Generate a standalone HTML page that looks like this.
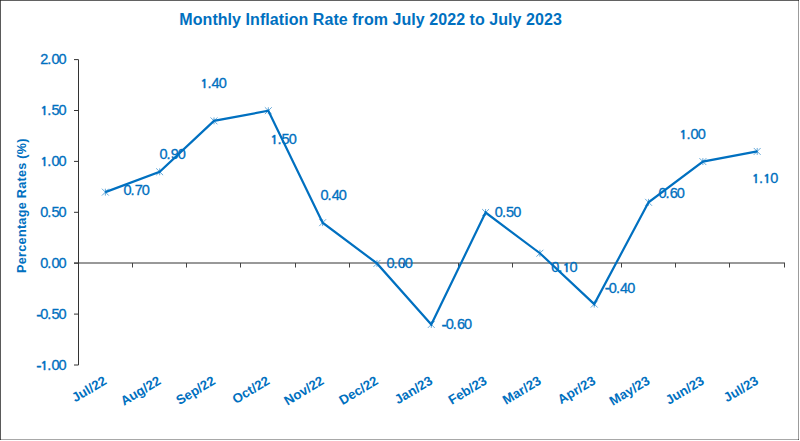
<!DOCTYPE html>
<html><head><meta charset="utf-8"><style>
html,body{margin:0;padding:0;background:#fff;}
body{width:800px;height:441px;overflow:hidden;}
svg{display:block;}
text{font-family:"Liberation Sans",Arial,sans-serif;fill:#0070C0;}
.one{font-family:"NanumGothic","Liberation Sans",sans-serif;font-weight:bold;font-size:12.9px;}
.hy{stroke-width:0.7px;}
</style></head><body>
<svg width="800" height="441" viewBox="0 0 800 441">
<rect x="0" y="0" width="800" height="441" fill="#fff"/>
<rect x="0" y="0" width="799" height="1" fill="#626262"/>
<rect x="0" y="0" width="1" height="440" fill="#5a5a5a"/>
<rect x="798" y="1" width="1" height="439" fill="#9c9c9c"/>
<rect x="1" y="439" width="798" height="1" fill="#a8a8a8"/>
<rect x="0" y="0" width="1" height="1" fill="#333"/><rect x="798" y="0" width="1" height="1" fill="#3a3a3a"/><rect x="0" y="439" width="1" height="1" fill="#3a3a3a"/><rect x="798" y="439" width="1" height="1" fill="#555"/>
<text x="370.6" y="24.8" text-anchor="middle" font-size="16" font-weight="bold" textLength="382.5" lengthAdjust="spacing">Monthly Inflation Rate from July 2022 to July 2023</text>
<text transform="translate(26.1,205.7) rotate(-90)" font-size="12.6" font-weight="bold" text-anchor="middle" textLength="134.46" lengthAdjust="spacing">Percentage Rates (%)</text>
<path d="M78.5 59.6 V365" stroke="#333" stroke-width="1" fill="none"/>
<path d="M74 59.60 H78.5 M74 110.50 H78.5 M74 161.40 H78.5 M74 212.30 H78.5 M74 263.20 H78.5 M74 314.10 H78.5 M74 365.00 H78.5 " stroke="#333" stroke-width="1" fill="none"/>
<path d="M74 263.0 H785" stroke="#333" stroke-width="1" fill="none"/>
<path d="M132.50 263 V267.5 M186.50 263 V267.5 M240.50 263 V267.5 M295.50 263 V267.5 M349.50 263 V267.5 M403.50 263 V267.5 M458.50 263 V267.5 M512.50 263 V267.5 M566.50 263 V267.5 M621.50 263 V267.5 M675.50 263 V267.5 M729.50 263 V267.5 M784.50 263 V267.5 " stroke="#444" stroke-width="1" fill="none"/>
<text x="40.30 47.35 51.55 58.60" y="64.40" font-size="14.5" stroke="#0070C0" stroke-width="0.3">2.00</text>
<text font-size="14.5" stroke="#0070C0" stroke-width="0.3"><tspan x="40.30" y="115.30" class="one">1</tspan><tspan x="47.35" y="115.30">.</tspan><tspan x="51.55" y="115.30">5</tspan><tspan x="58.60" y="115.30">0</tspan></text>
<text font-size="14.5" stroke="#0070C0" stroke-width="0.3"><tspan x="40.30" y="166.20" class="one">1</tspan><tspan x="47.35" y="166.20">.</tspan><tspan x="51.55" y="166.20">0</tspan><tspan x="58.60" y="166.20">0</tspan></text>
<text x="40.30 47.35 51.55 58.60" y="217.10" font-size="14.5" stroke="#0070C0" stroke-width="0.3">0.50</text>
<text x="40.30 47.35 51.55 58.60" y="268.00" font-size="14.5" stroke="#0070C0" stroke-width="0.3">0.00</text>
<text font-size="14.5" stroke="#0070C0" stroke-width="0.3"><tspan x="36.40" y="319.60" class="hy">-</tspan><tspan x="40.30" y="318.90">0</tspan><tspan x="47.35" y="318.90">.</tspan><tspan x="51.55" y="318.90">5</tspan><tspan x="58.60" y="318.90">0</tspan></text>
<text font-size="14.5" stroke="#0070C0" stroke-width="0.3"><tspan x="36.40" y="370.50" class="hy">-</tspan><tspan x="40.30" y="369.80" class="one">1</tspan><tspan x="47.35" y="369.80">.</tspan><tspan x="51.55" y="369.80">0</tspan><tspan x="58.60" y="369.80">0</tspan></text>
<path d="M101.91 188.69 L108.81 195.59 M101.91 195.59 L108.81 188.69 M105.36 188.69 V195.59 M156.23 168.33 L163.13 175.23 M156.23 175.23 L163.13 168.33 M159.68 168.33 V175.23 M210.55 117.43 L217.45 124.33 M210.55 124.33 L217.45 117.43 M214.00 117.43 V124.33 M264.87 107.25 L271.77 114.15 M264.87 114.15 L271.77 107.25 M268.32 107.25 V114.15 M319.19 219.23 L326.09 226.13 M319.19 226.13 L326.09 219.23 M322.64 219.23 V226.13 M373.51 259.95 L380.41 266.85 M373.51 266.85 L380.41 259.95 M376.96 259.95 V266.85 M427.83 321.03 L434.73 327.93 M427.83 327.93 L434.73 321.03 M431.28 321.03 V327.93 M482.15 209.05 L489.05 215.95 M482.15 215.95 L489.05 209.05 M485.60 209.05 V215.95 M536.47 249.77 L543.37 256.67 M536.47 256.67 L543.37 249.77 M539.92 249.77 V256.67 M590.79 300.67 L597.69 307.57 M590.79 307.57 L597.69 300.67 M594.24 300.67 V307.57 M645.11 198.87 L652.01 205.77 M645.11 205.77 L652.01 198.87 M648.56 198.87 V205.77 M699.43 158.15 L706.33 165.05 M699.43 165.05 L706.33 158.15 M702.88 158.15 V165.05 M753.75 147.97 L760.65 154.87 M753.75 154.87 L760.65 147.97 M757.20 147.97 V154.87 " stroke="#0070C0" stroke-width="0.8" stroke-opacity="0.75" fill="none"/>
<polyline points="105.36,192.14 159.68,171.78 214.00,120.88 268.32,110.70 322.64,222.68 376.96,263.40 431.28,324.48 485.60,212.50 539.92,253.22 594.24,304.12 648.56,202.32 702.88,161.60 757.20,151.42" fill="none" stroke="#0070C0" stroke-width="2.2" stroke-linejoin="miter"/>
<text x="123.43 130.48 134.68 141.73" y="194.50" font-size="14.5" stroke="#0070C0" stroke-width="0.3">0.70</text>
<text x="159.43 166.48 170.68 177.73" y="159.10" font-size="14.5" stroke="#0070C0" stroke-width="0.3">0.90</text>
<text font-size="14.5" stroke="#0070C0" stroke-width="0.3"><tspan x="200.35" y="88.20" class="one">1</tspan><tspan x="207.40" y="88.20">.</tspan><tspan x="211.60" y="88.20">4</tspan><tspan x="218.65" y="88.20">0</tspan></text>
<text font-size="14.5" stroke="#0070C0" stroke-width="0.3"><tspan x="270.35" y="143.50" class="one">1</tspan><tspan x="277.40" y="143.50">.</tspan><tspan x="281.60" y="143.50">5</tspan><tspan x="288.65" y="143.50">0</tspan></text>
<text x="320.43 327.48 331.68 338.73" y="199.60" font-size="14.5" stroke="#0070C0" stroke-width="0.3">0.40</text>
<text x="386.43 393.48 397.68 404.73" y="268.00" font-size="14.5" stroke="#0070C0" stroke-width="0.3">0.00</text>
<text font-size="14.5" stroke="#0070C0" stroke-width="0.3"><tspan x="441.76" y="329.60" class="hy">-</tspan><tspan x="445.66" y="328.90">0</tspan><tspan x="452.71" y="328.90">.</tspan><tspan x="456.91" y="328.90">6</tspan><tspan x="463.96" y="328.90">0</tspan></text>
<text x="494.83 501.88 506.08 513.13" y="217.00" font-size="14.5" stroke="#0070C0" stroke-width="0.3">0.50</text>
<text font-size="14.5" stroke="#0070C0" stroke-width="0.3"><tspan x="551.13" y="271.80">0</tspan><tspan x="558.18" y="271.80">.</tspan><tspan x="562.38" y="271.80" class="one">1</tspan><tspan x="569.43" y="271.80">0</tspan></text>
<text font-size="14.5" stroke="#0070C0" stroke-width="0.3"><tspan x="604.96" y="293.40" class="hy">-</tspan><tspan x="608.86" y="292.70">0</tspan><tspan x="615.91" y="292.70">.</tspan><tspan x="620.11" y="292.70">4</tspan><tspan x="627.16" y="292.70">0</tspan></text>
<text x="658.43 665.48 669.68 676.73" y="198.30" font-size="14.5" stroke="#0070C0" stroke-width="0.3">0.60</text>
<text font-size="14.5" stroke="#0070C0" stroke-width="0.3"><tspan x="679.35" y="139.40" class="one">1</tspan><tspan x="686.40" y="139.40">.</tspan><tspan x="690.60" y="139.40">0</tspan><tspan x="697.65" y="139.40">0</tspan></text>
<text font-size="14.5" stroke="#0070C0" stroke-width="0.3"><tspan x="751.85" y="183.10" class="one">1</tspan><tspan x="758.90" y="183.10">.</tspan><tspan x="763.10" y="183.10" class="one">1</tspan><tspan x="770.15" y="183.10">0</tspan></text>
<text transform="translate(107.56,383.2) rotate(-31)" font-size="13.2" font-weight="bold" text-anchor="end" textLength="37.70" lengthAdjust="spacing">Jul/22</text>
<text transform="translate(161.88,383.2) rotate(-31)" font-size="13.2" font-weight="bold" text-anchor="end" textLength="44.34" lengthAdjust="spacing">Aug/22</text>
<text transform="translate(216.20,383.2) rotate(-31)" font-size="13.2" font-weight="bold" text-anchor="end" textLength="42.88" lengthAdjust="spacing">Sep/22</text>
<text transform="translate(270.52,383.2) rotate(-31)" font-size="13.2" font-weight="bold" text-anchor="end" textLength="40.66" lengthAdjust="spacing">Oct/22</text>
<text transform="translate(324.84,383.2) rotate(-31)" font-size="13.2" font-weight="bold" text-anchor="end" textLength="43.61" lengthAdjust="spacing">Nov/22</text>
<text transform="translate(379.16,383.2) rotate(-31)" font-size="13.2" font-weight="bold" text-anchor="end" textLength="42.88" lengthAdjust="spacing">Dec/22</text>
<text transform="translate(433.48,383.2) rotate(-31)" font-size="13.2" font-weight="bold" text-anchor="end" textLength="41.40" lengthAdjust="spacing">Jan/23</text>
<text transform="translate(487.80,383.2) rotate(-31)" font-size="13.2" font-weight="bold" text-anchor="end" textLength="42.13" lengthAdjust="spacing">Feb/23</text>
<text transform="translate(542.12,383.2) rotate(-31)" font-size="13.2" font-weight="bold" text-anchor="end" textLength="42.14" lengthAdjust="spacing">Mar/23</text>
<text transform="translate(596.44,383.2) rotate(-31)" font-size="13.2" font-weight="bold" text-anchor="end" textLength="41.39" lengthAdjust="spacing">Apr/23</text>
<text transform="translate(650.76,383.2) rotate(-31)" font-size="13.2" font-weight="bold" text-anchor="end" textLength="44.36" lengthAdjust="spacing">May/23</text>
<text transform="translate(705.08,383.2) rotate(-31)" font-size="13.2" font-weight="bold" text-anchor="end" textLength="42.13" lengthAdjust="spacing">Jun/23</text>
<text transform="translate(759.40,383.2) rotate(-31)" font-size="13.2" font-weight="bold" text-anchor="end" textLength="37.70" lengthAdjust="spacing">Jul/23</text>
</svg></body></html>
